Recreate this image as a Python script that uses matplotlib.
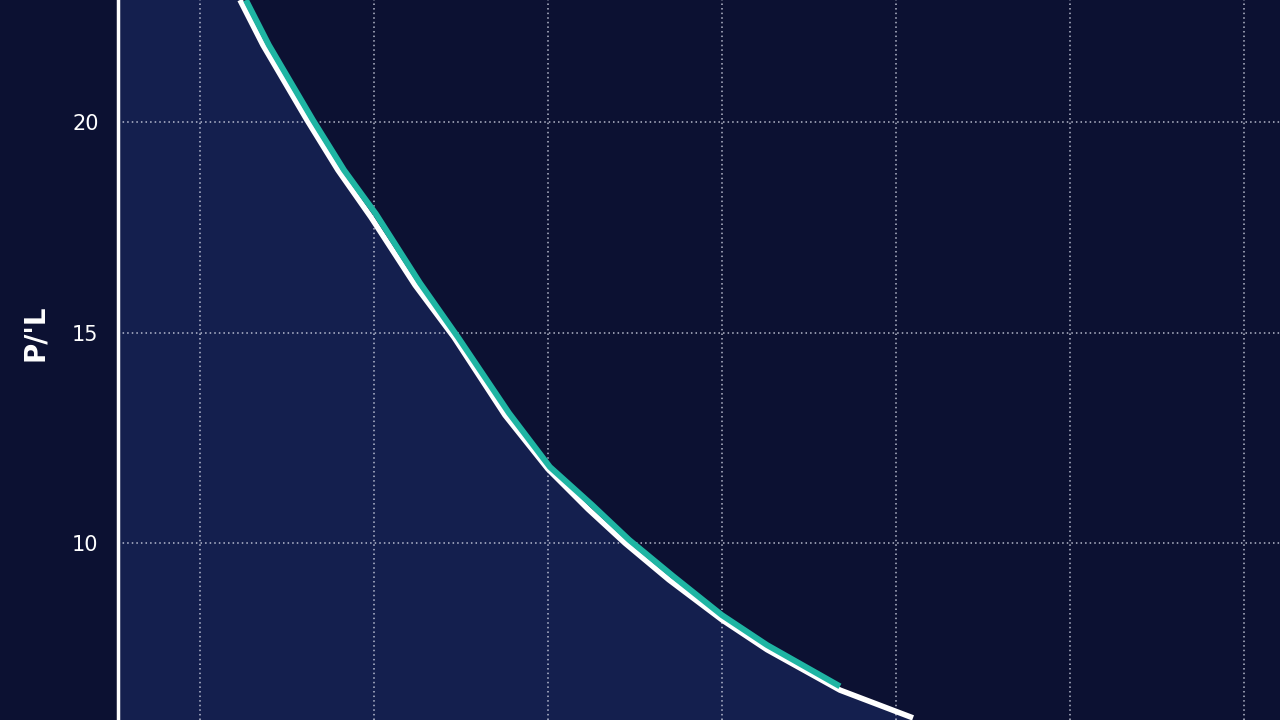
import matplotlib.pyplot as plt

# curve values (x in grid units, y in P/L)
white_x = [1.230, 1.362, 1.615, 1.793, 1.983, 2.236, 2.460, 2.753,
           3.000, 3.230, 3.443, 3.695, 4.000, 4.259, 4.678, 5.098]
white_y = [22.90, 21.83, 20.05, 18.86, 17.74, 16.13, 14.89, 13.04,
           11.76, 10.81, 10.00, 9.13, 8.18, 7.47, 6.51, 5.85]

teal_x = [1.264, 1.396, 1.649, 1.828, 2.011, 2.264, 2.483, 2.776,
          3.011, 3.253, 3.466, 3.718, 4.000, 4.259, 4.678]
teal_y = [22.90, 21.83, 20.05, 18.86, 17.82, 16.18, 14.89, 13.09,
          11.81, 10.91, 10.08, 9.22, 8.29, 7.58, 6.60]

y_ticks = [10, 15, 20]
x_grid = [1, 2, 3, 4, 5, 6, 7]

bg = '#0c1132'
fill_col = '#141f4e'

fig = plt.figure(figsize=(12.8, 7.2), dpi=100, facecolor=bg)
ax = fig.add_axes([118 / 1280, 0, 1 - 118 / 1280, 1])
ax.set_facecolor(bg)

# area under the white curve
ax.fill_between(white_x, white_y, 0, color=fill_col, lw=0, zorder=1)
ax.fill_between([0.4, white_x[0]], [30, 30], 0, color=fill_col, lw=0, zorder=1)

ax.plot(white_x, white_y, color='white', lw=4, solid_joinstyle='round',
        solid_capstyle='butt', zorder=3)
ax.plot(teal_x, teal_y, color='#1fb5a3', lw=4.3, solid_joinstyle='round',
        solid_capstyle='butt', zorder=4)

ax.set_xlim(0.529, 7.207)
ax.set_ylim(5.80, 22.90)

ax.set_xticks(x_grid)
ax.set_yticks(y_ticks)
ax.set_xticklabels([])
ax.set_yticklabels([str(t) for t in y_ticks], color='white', fontsize=15)
ax.tick_params(length=0, pad=14)
ax.grid(True, color='#dfe2f0', alpha=0.8, lw=1.1, linestyle=(0, (1, 2)), zorder=2)

for side in ['right', 'top', 'bottom']:
    ax.spines[side].set_visible(False)
ax.spines['left'].set_color('white')
ax.spines['left'].set_linewidth(2.5)
ax.spines['left'].set_zorder(5)

fig.text(35 / 1280, 1 - 333 / 720, "P/'L", color='white', fontsize=20,
         fontweight='bold', rotation=90, ha='center', va='center')

fig.savefig('out.png', dpi=100, facecolor=bg)
